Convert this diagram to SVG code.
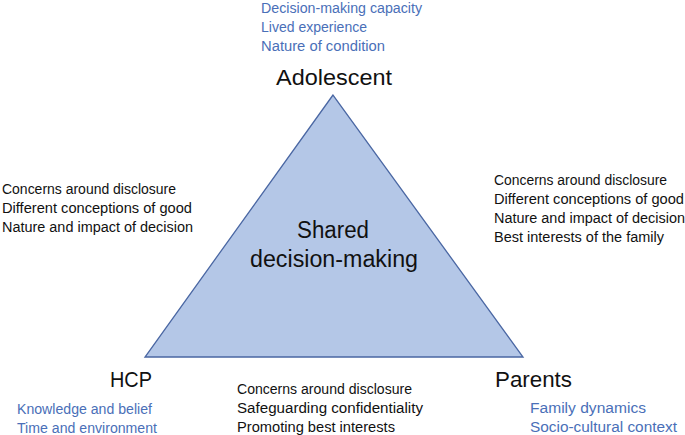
<svg xmlns="http://www.w3.org/2000/svg" width="685" height="435" viewBox="0 0 685 435">
<style>
text{font-family:"Liberation Sans",Arial,sans-serif;}
.t{font-size:14px;fill:#111;}
.b{font-size:14px;fill:#4a6fb8;}
.h{font-size:22.5px;fill:#111;}
.c{font-size:23px;fill:#111;}
.tri{fill:#b4c7e7;stroke:#4a67a3;stroke-width:1.3;}
</style>
<rect width="685" height="435" fill="#fff"/>
<g id="connectors">
<polygon class="tri" points="333,95 145,357 523,357"/>
</g>
<g id="shared">
<text class="c" x="297" y="238" textLength="72" lengthAdjust="spacingAndGlyphs">Shared</text>
<text class="c" x="250" y="267" textLength="168" lengthAdjust="spacingAndGlyphs">decision-making</text>
</g>
<g id="adolescent">
<text class="b" x="261" y="13" textLength="161" lengthAdjust="spacingAndGlyphs">Decision-making capacity</text>
<text class="b" x="261" y="32" textLength="106" lengthAdjust="spacingAndGlyphs">Lived experience</text>
<text class="b" x="261" y="51" textLength="124" lengthAdjust="spacingAndGlyphs">Nature of condition</text>
<text class="h" x="276" y="85" textLength="116" lengthAdjust="spacingAndGlyphs">Adolescent</text>
</g>
<g id="hcp">
<text class="h" x="110" y="387" textLength="42" lengthAdjust="spacingAndGlyphs">HCP</text>
<text class="b" x="17" y="414" textLength="135" lengthAdjust="spacingAndGlyphs">Knowledge and belief</text>
<text class="b" x="17" y="433" textLength="140" lengthAdjust="spacingAndGlyphs">Time and environment</text>
</g>
<g id="parents">
<text class="h" x="495" y="387" textLength="77" lengthAdjust="spacingAndGlyphs">Parents</text>
<text class="b" x="530" y="413" textLength="116" lengthAdjust="spacingAndGlyphs">Family dynamics</text>
<text class="b" x="530" y="432" textLength="147" lengthAdjust="spacingAndGlyphs">Socio-cultural context</text>
</g>
<g id="label-adolescent-hcp">
<text class="t" x="2" y="194" textLength="174" lengthAdjust="spacingAndGlyphs">Concerns around disclosure</text>
<text class="t" x="2" y="213" textLength="190" lengthAdjust="spacingAndGlyphs">Different conceptions of good</text>
<text class="t" x="2" y="232" textLength="191" lengthAdjust="spacingAndGlyphs">Nature and impact of decision</text>
</g>
<g id="label-adolescent-parents">
<text class="t" x="494" y="185" textLength="173" lengthAdjust="spacingAndGlyphs">Concerns around disclosure</text>
<text class="t" x="494" y="204" textLength="190" lengthAdjust="spacingAndGlyphs">Different conceptions of good</text>
<text class="t" x="494" y="223" textLength="191" lengthAdjust="spacingAndGlyphs">Nature and impact of decision</text>
<text class="t" x="494" y="242" textLength="170" lengthAdjust="spacingAndGlyphs">Best interests of the family</text>
</g>
<g id="label-hcp-parents">
<text class="t" x="237" y="394" textLength="175" lengthAdjust="spacingAndGlyphs">Concerns around disclosure</text>
<text class="t" x="237" y="413" textLength="186" lengthAdjust="spacingAndGlyphs">Safeguarding confidentiality</text>
<text class="t" x="237" y="432" textLength="158" lengthAdjust="spacingAndGlyphs">Promoting best interests</text>
</g>
</svg>
